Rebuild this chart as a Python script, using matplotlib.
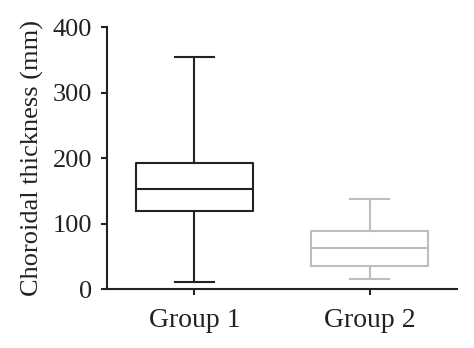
import matplotlib
matplotlib.use("Agg")
import matplotlib.pyplot as plt

groups = ["Group 1", "Group 2"]
whislo = [10.7, 15.2]
q1 = [119, 35.5]
med = [153, 63.5]
q3 = [193, 89]
whishi = [355, 138]
colors = ["#222222", "#bdbdbd"]
yticks = [0, 100, 200, 300, 400]

plt.rcParams['font.family'] = ['Liberation Serif', 'DejaVu Serif']

fig = plt.figure(figsize=(4.74, 3.48), dpi=100)
ax = fig.add_axes([0.225, 0.169, 0.74, 0.753])

lw = 1.5
for i in range(len(groups)):
    stats = [dict(whislo=whislo[i], q1=q1[i], med=med[i], q3=q3[i], whishi=whishi[i], fliers=[], label=groups[i])]
    c = colors[i]
    ax.bxp(stats, positions=[i + 1], widths=0.667, showfliers=False,
           boxprops=dict(color=c, linewidth=lw),
           medianprops=dict(color=c, linewidth=lw),
           whiskerprops=dict(color=c, linewidth=lw),
           capprops=dict(color=c, linewidth=lw),
           capwidths=0.22)

ax.set_xlim(0.5, 2.5)
ax.set_ylim(0, 400)
ax.set_yticks(yticks)
ax.set_xticks([1, 2])
ax.set_xticklabels(groups, fontsize=20)
ax.spines['top'].set_visible(False)
ax.spines['right'].set_visible(False)
for s in ['left', 'bottom']:
    ax.spines[s].set_linewidth(lw)
    ax.spines[s].set_color("#222222")
ax.tick_params(axis='both', direction='out', length=4.5, width=lw, color="#222222", labelsize=19, labelcolor="#222222")
ax.tick_params(axis='x', labelsize=20, pad=9)
ax.tick_params(axis='y', pad=6)
ax.set_ylabel("Choroidal thickness (mm)", fontsize=19, color="#222222", labelpad=6)

fig.savefig("out.png", dpi=100)
